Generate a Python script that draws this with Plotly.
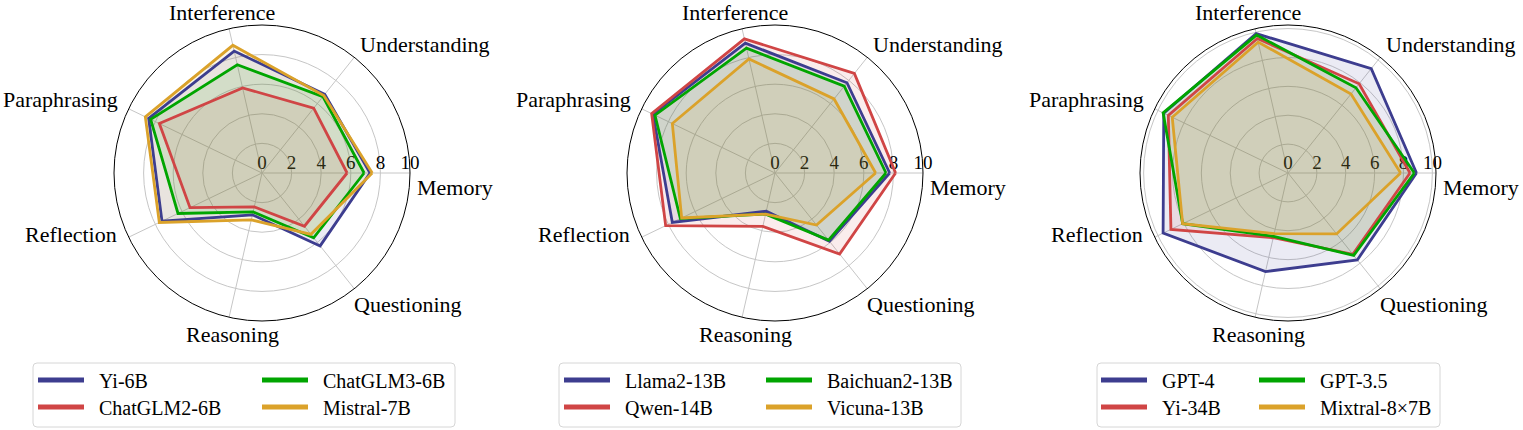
import plotly.graph_objects as go

# Dimensões do radar (sentido anti-horário a partir de Memory)
dimensions = ["Memory", "Understanding", "Interference", "Paraphrasing",
              "Reflection", "Reasoning", "Questioning"]
radial_ticks = [0, 2, 4, 6, 8, 10]

colors = ["#3d3d8f", "#d04545", "#00a500", "#dba22a"]
fill_colors = ["rgba(61,61,143,0.1)", "rgba(208,69,69,0.1)",
               "rgba(0,165,0,0.1)", "rgba(219,162,42,0.1)"]

# Painel 1
models_1 = ["Yi-6B", "ChatGLM2-6B", "ChatGLM3-6B", "Mistral-7B"]
yi_6b = [7.3, 6.8, 8.45, 8.5, 7.5, 2.9, 6.3]
chatglm2_6b = [5.75, 5.6, 5.9, 7.7, 5.4, 2.35, 4.6]
chatglm3_6b = [6.9, 6.6, 7.5, 8.35, 6.3, 2.7, 5.6]
mistral_7b = [7.45, 6.7, 8.85, 8.75, 7.7, 3.25, 5.3]

# Painel 2
models_2 = ["Llama2-13B", "Qwen-14B", "Baichuan2-13B", "Vicuna-13B"]
llama2_13b = [7.75, 7.8, 9.0, 9.15, 7.7, 2.65, 5.9]
qwen_14b = [8.15, 8.6, 9.3, 9.25, 8.2, 3.7, 7.0]
baichuan2_13b = [7.5, 7.5, 8.65, 9.0, 7.1, 2.85, 5.8]
vicuna_13b = [6.8, 6.4, 7.9, 7.7, 7.0, 2.85, 4.5]

# Painel 3
models_3 = ["GPT-4", "Yi-34B", "GPT-3.5", "Mixtral-8×7B"]
gpt_4 = [8.9, 9.25, 9.9, 9.55, 9.6, 7.0, 7.7]
yi_34b = [8.45, 7.9, 9.55, 9.2, 9.0, 4.6, 7.2]
gpt_35 = [8.75, 7.55, 9.8, 9.6, 8.1, 4.5, 7.3]
mixtral_8x7b = [7.8, 7.0, 9.3, 8.9, 8.1, 4.3, 5.4]

panels = [
    (models_1, [yi_6b, chatglm2_6b, chatglm3_6b, mistral_7b], 10.0),
    (models_2, [llama2_13b, qwen_14b, baichuan2_13b, vicuna_13b], 10.0),
    (models_3, [gpt_4, yi_34b, gpt_35, mixtral_8x7b], 10.25),
]

W, H = 1523, 430
FONT = "Liberation Serif"
centers_x = [262, 775, 1288]
center_y = 173
radius = 148
# posição dos rótulos das dimensões (px relativos ao centro, y para baixo)
label_offsets = [(153, 14, "left"), (96, -128, "left"), (-40, -160, "center"),
                 (-142, -73, "right"), (-143, 61, "right"), (-30, 161, "center"),
                 (90, 131, "left")]
legend_left = [33, 559, 1097]
legend_right = [455, 961, 1440]
swatch_x = [[38, 262], [564, 766], [1101, 1259]]
row_y = [380, 407]

fig = go.Figure()

for p, (names, series, rmax) in enumerate(panels):
    subplot = "polar" if p == 0 else f"polar{p + 1}"
    # preenchimentos primeiro (ficam abaixo de todas as linhas)
    for i, vals in enumerate(series):
        fig.add_trace(go.Scatterpolar(
            r=vals + vals[:1], theta=dimensions + dimensions[:1],
            mode="lines", fill="toself", fillcolor=fill_colors[i],
            line=dict(width=0), showlegend=False, hoverinfo="skip",
            subplot=subplot,
        ))
    for i, (name, vals) in enumerate(zip(names, series)):
        fig.add_trace(go.Scatterpolar(
            r=vals + vals[:1], theta=dimensions + dimensions[:1],
            mode="lines", line=dict(color=colors[i], width=2.8),
            name=name, showlegend=False, subplot=subplot,
        ))
    # uma legenda por entrada (2 colunas, ordem por coluna como no matplotlib)
    for i, (name, vals) in enumerate(zip(names, series)):
        row, col = i % 2, i // 2
        leg_id = 4 * p + i + 1
        key = "legend" if leg_id == 1 else f"legend{leg_id}"
        fig.add_trace(go.Scatterpolar(
            r=vals[:1], theta=dimensions[:1], mode="lines",
            line=dict(color=colors[i], width=5),
            name="\u00a0\u00a0" + name, subplot=subplot, hoverinfo="skip",
            legend=key,
        ))
        fig.update_layout(**{key: dict(
            orientation="h",
            x=(swatch_x[p][col] - 5) / W, xanchor="left",
            y=1 - row_y[row] / H, yanchor="middle",
            bgcolor="rgba(0,0,0,0)", borderwidth=0,
            font=dict(family=FONT, size=20, color="black"),
            itemwidth=46,
        )})

    cx = centers_x[p]
    polar_cfg = dict(
        domain=dict(x=[(cx - radius) / W, (cx + radius) / W],
                    y=[1 - (center_y + radius) / H, 1 - (center_y - radius) / H]),
        bgcolor="white",
        angularaxis=dict(
            direction="counterclockwise", rotation=0,
            categoryorder="array", categoryarray=dimensions,
            showline=True, linecolor="black", linewidth=1,
            gridcolor="#c6c6c6", gridwidth=0.8, ticks="",
            showticklabels=False, layer="below traces",
        ),
        radialaxis=dict(
            range=[0, rmax], tickvals=radial_ticks, angle=0,
            side="counterclockwise",
            showline=False, gridcolor="#c6c6c6", gridwidth=0.8, ticks="",
            tickfont=dict(family=FONT, size=19, color="black"),
            tickangle=0, layer="below traces",
        ),
    )
    fig.update_layout(**{subplot: polar_cfg})

    # rótulos das dimensões
    for label, (dx, dy, anchor) in zip(dimensions, label_offsets):
        fig.add_annotation(
            text=label, x=(cx + dx) / W, y=1 - (center_y + dy) / H,
            xref="paper", yref="paper", xanchor=anchor, yanchor="middle",
            showarrow=False, font=dict(family=FONT, size=22, color="black"),
        )

    # caixa da legenda com cantos arredondados
    x0, x1 = legend_left[p] / W, legend_right[p] / W
    y0, y1 = 1 - 427 / H, 1 - 363 / H
    rx, ry = 4 / W, 4 / H
    path = (f"M{x0 + rx},{y0} L{x1 - rx},{y0} Q{x1},{y0} {x1},{y0 + ry} "
            f"L{x1},{y1 - ry} Q{x1},{y1} {x1 - rx},{y1} L{x0 + rx},{y1} "
            f"Q{x0},{y1} {x0},{y1 - ry} L{x0},{y0 + ry} Q{x0},{y0} {x0 + rx},{y0} Z")
    fig.add_shape(type="path", path=path, xref="paper", yref="paper",
                  line=dict(color="#d6d6d6", width=1), fillcolor="white",
                  layer="below")

fig.update_layout(
    width=W, height=H,
    margin=dict(l=0, r=0, t=0, b=0),
    paper_bgcolor="white",
    font=dict(family=FONT, color="black"),
)

fig.write_html("out.html", config={"displayModeBar": False},
               post_script="document.body.style.margin='0px';")
